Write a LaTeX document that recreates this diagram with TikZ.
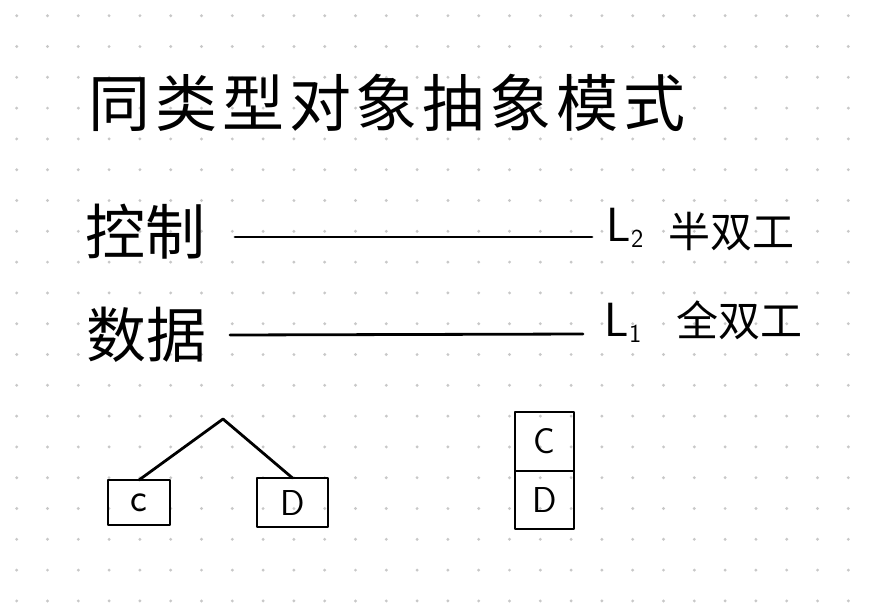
\documentclass[tikz,border=0pt]{standalone}
\usepackage{fontspec}
\usetikzlibrary{positioning}
\newfontfamily\cjk{Noto Sans CJK SC}
\newfontfamily\cjkwide{Noto Sans CJK SC}[LetterSpace=8]
\definecolor{dotgray}{RGB}{200,200,200}
\tikzset{
    pen/.style={line width=2.8pt, line cap=round, line join=round},
    letterbox/.style={draw, pen, inner sep=0pt, outer sep=0pt},
    word/.style={inner sep=0pt}
}
\begin{document}
\begin{tikzpicture}[x=1pt, y=-1pt]
    \useasboundingbox[fill=white] (0, 0) rectangle (869, 611);

    % dot grid
    \foreach \i in {0,...,27}
        \foreach \j in {0,...,19}
            \fill[dotgray] (16.7+30.8*\i, 15.7+30.8*\j) circle (1.6);

    \node[word, anchor=west] (title) at (88, 103) {\cjkwide\fontsize{62}{62}\selectfont 同类型对象抽象模式};

    \node[word] (ctrl) at (145, 232) {\cjk\fontsize{60}{60}\selectfont 控制};
    \node[word] (data) at (146, 335) {\cjk\fontsize{60}{60}\selectfont 数据};

    \node[word] (l2) at (625, 228) {\sffamily\fontsize{48}{48}\selectfont L\raisebox{-6pt}{\fontsize{26}{26}\selectfont 2}};
    \node[word] (l1) at (623, 323) {\sffamily\fontsize{48}{48}\selectfont L\raisebox{-6pt}{\fontsize{26}{26}\selectfont 1}};
    \node[word] (half) at (731, 232) {\cjk\fontsize{42}{42}\selectfont 半双工};
    \node[word] (full) at (739, 320) {\cjk\fontsize{42}{42}\selectfont 全双工};

    \coordinate (c1) at (235, 237);
    \coordinate (c2) at (592, 237);
    \coordinate (d1) at (230, 335);
    \coordinate (d2) at (583, 334);
    \draw[pen] (c1) -- (c2);
    \draw[pen] (d1) -- (d2);

    % tree
    \node[letterbox, minimum width=62pt, minimum height=45pt] (cbox) at (139, 502.5) {\sffamily\fontsize{40}{40}\selectfont c};
    \node[letterbox, minimum width=71pt, minimum height=49pt] (dbox) at (292.5, 502.5) {\sffamily\fontsize{36}{36}\selectfont D};
    \coordinate (top) at (223, 419);
    \draw[pen] (cbox.north) -- (top) -- (dbox.north);

    % stacked
    \node[letterbox, minimum width=59pt, minimum height=59pt] (ctop) at (544.5, 441.5) {\sffamily\fontsize{36}{36}\selectfont C};
    \node[letterbox, minimum width=59pt, minimum height=58pt, below=0pt of ctop] (dbot) {\sffamily\fontsize{36}{36}\selectfont D};
\end{tikzpicture}
\end{document}
